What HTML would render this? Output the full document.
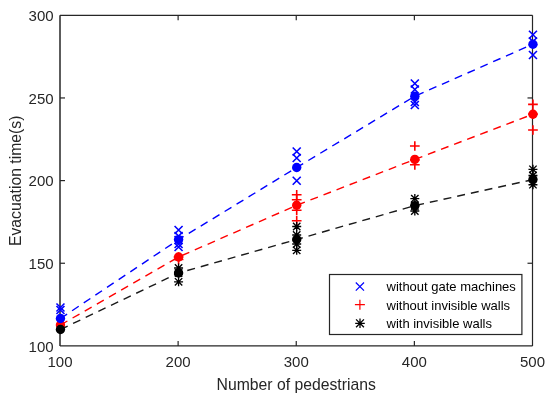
<!DOCTYPE html>
<html><head><meta charset="utf-8"><title>Evacuation time plot</title>
<style>html,body{margin:0;padding:0;background:#fff;width:550px;height:399px;overflow:hidden}svg{display:block}</style>
</head><body>
<svg width="550" height="399" viewBox="0 0 550 399">
<rect width="550" height="399" fill="#fff"/>
<g stroke="#262626" fill="none">
<line x1="60.0" y1="15.3" x2="60.0" y2="345.9" stroke-width="1.5"/>
<line x1="532.5" y1="15.3" x2="532.5" y2="345.9" stroke-width="1.2"/>
<line x1="60.0" y1="15.3" x2="532.5" y2="15.3" stroke-width="1.3"/>
<line x1="60.0" y1="345.9" x2="532.5" y2="345.9" stroke-width="1.3"/>
<line x1="178.12" y1="345.9" x2="178.12" y2="340.9" stroke-width="1.2"/>
<line x1="178.12" y1="15.3" x2="178.12" y2="20.3" stroke-width="1.2"/>
<line x1="296.25" y1="345.9" x2="296.25" y2="340.9" stroke-width="1.2"/>
<line x1="296.25" y1="15.3" x2="296.25" y2="20.3" stroke-width="1.2"/>
<line x1="414.38" y1="345.9" x2="414.38" y2="340.9" stroke-width="1.2"/>
<line x1="414.38" y1="15.3" x2="414.38" y2="20.3" stroke-width="1.2"/>
<line x1="60.0" y1="263.25" x2="65.0" y2="263.25" stroke-width="1.2"/>
<line x1="532.5" y1="263.25" x2="527.5" y2="263.25" stroke-width="1.2"/>
<line x1="60.0" y1="180.60" x2="65.0" y2="180.60" stroke-width="1.2"/>
<line x1="532.5" y1="180.60" x2="527.5" y2="180.60" stroke-width="1.2"/>
<line x1="60.0" y1="97.95" x2="65.0" y2="97.95" stroke-width="1.2"/>
<line x1="532.5" y1="97.95" x2="527.5" y2="97.95" stroke-width="1.2"/>
</g>
<polyline points="60.45,325.00 178.57,257.00 296.70,205.30 414.82,159.40 532.95,114.20" fill="none" stroke="#ff0000" stroke-width="1.4" stroke-dasharray="8 6"/>
<path d="M173.72 257.00H183.42M178.57 252.15V261.85" stroke="#ff0000" stroke-width="1.6" fill="none"/>
<path d="M173.72 259.50H183.42M178.57 254.65V264.35" stroke="#ff0000" stroke-width="1.6" fill="none"/>
<path d="M291.85 194.80H301.55M296.70 189.95V199.65" stroke="#ff0000" stroke-width="1.6" fill="none"/>
<path d="M291.85 199.80H301.55M296.70 194.95V204.65" stroke="#ff0000" stroke-width="1.6" fill="none"/>
<path d="M291.85 210.20H301.55M296.70 205.35V215.05" stroke="#ff0000" stroke-width="1.6" fill="none"/>
<path d="M291.85 220.70H301.55M296.70 215.85V225.55" stroke="#ff0000" stroke-width="1.6" fill="none"/>
<path d="M409.97 146.00H419.68M414.82 141.15V150.85" stroke="#ff0000" stroke-width="1.6" fill="none"/>
<path d="M409.97 160.00H419.68M414.82 155.15V164.85" stroke="#ff0000" stroke-width="1.6" fill="none"/>
<path d="M409.97 164.80H419.68M414.82 159.95V169.65" stroke="#ff0000" stroke-width="1.6" fill="none"/>
<path d="M528.10 104.40H537.80M532.95 99.55V109.25" stroke="#ff0000" stroke-width="1.6" fill="none"/>
<path d="M528.10 114.00H537.80M532.95 109.15V118.85" stroke="#ff0000" stroke-width="1.6" fill="none"/>
<path d="M528.10 130.00H537.80M532.95 125.15V134.85" stroke="#ff0000" stroke-width="1.6" fill="none"/>
<circle cx="60.45" cy="325.00" r="4.7" fill="#ff0000"/>
<circle cx="178.57" cy="257.00" r="4.7" fill="#ff0000"/>
<circle cx="296.70" cy="205.30" r="4.7" fill="#ff0000"/>
<circle cx="414.82" cy="159.40" r="4.7" fill="#ff0000"/>
<circle cx="532.95" cy="114.20" r="4.7" fill="#ff0000"/>
<polyline points="60.45,329.50 178.57,273.00 296.70,239.50 414.82,205.60 532.95,179.60" fill="none" stroke="#1a1a1a" stroke-width="1.4" stroke-dasharray="8 6"/>
<path d="M174.07 268.00H183.07M178.57 263.50V272.50M174.88 264.31L182.26 271.69M174.88 271.69L182.26 264.31" stroke="#000000" stroke-width="1.35" fill="none"/>
<path d="M174.07 273.00H183.07M178.57 268.50V277.50M174.88 269.31L182.26 276.69M174.88 276.69L182.26 269.31" stroke="#000000" stroke-width="1.35" fill="none"/>
<path d="M174.07 281.80H183.07M178.57 277.30V286.30M174.88 278.11L182.26 285.49M174.88 285.49L182.26 278.11" stroke="#000000" stroke-width="1.35" fill="none"/>
<path d="M292.20 226.50H301.20M296.70 222.00V231.00M293.01 222.81L300.39 230.19M293.01 230.19L300.39 222.81" stroke="#000000" stroke-width="1.35" fill="none"/>
<path d="M292.20 235.00H301.20M296.70 230.50V239.50M293.01 231.31L300.39 238.69M293.01 238.69L300.39 231.31" stroke="#000000" stroke-width="1.35" fill="none"/>
<path d="M292.20 244.00H301.20M296.70 239.50V248.50M293.01 240.31L300.39 247.69M293.01 247.69L300.39 240.31" stroke="#000000" stroke-width="1.35" fill="none"/>
<path d="M292.20 250.30H301.20M296.70 245.80V254.80M293.01 246.61L300.39 253.99M293.01 253.99L300.39 246.61" stroke="#000000" stroke-width="1.35" fill="none"/>
<path d="M410.32 198.60H419.32M414.82 194.10V203.10M411.13 194.91L418.51 202.29M411.13 202.29L418.51 194.91" stroke="#000000" stroke-width="1.35" fill="none"/>
<path d="M410.32 206.00H419.32M414.82 201.50V210.50M411.13 202.31L418.51 209.69M411.13 209.69L418.51 202.31" stroke="#000000" stroke-width="1.35" fill="none"/>
<path d="M410.32 211.00H419.32M414.82 206.50V215.50M411.13 207.31L418.51 214.69M411.13 214.69L418.51 207.31" stroke="#000000" stroke-width="1.35" fill="none"/>
<path d="M528.45 169.30H537.45M532.95 164.80V173.80M529.26 165.61L536.64 172.99M529.26 172.99L536.64 165.61" stroke="#000000" stroke-width="1.35" fill="none"/>
<path d="M528.45 175.50H537.45M532.95 171.00V180.00M529.26 171.81L536.64 179.19M529.26 179.19L536.64 171.81" stroke="#000000" stroke-width="1.35" fill="none"/>
<path d="M528.45 184.70H537.45M532.95 180.20V189.20M529.26 181.01L536.64 188.39M529.26 188.39L536.64 181.01" stroke="#000000" stroke-width="1.35" fill="none"/>
<circle cx="60.45" cy="329.50" r="4.7" fill="#000000"/>
<circle cx="178.57" cy="273.00" r="4.7" fill="#000000"/>
<circle cx="296.70" cy="239.50" r="4.7" fill="#000000"/>
<circle cx="414.82" cy="205.60" r="4.7" fill="#000000"/>
<circle cx="532.95" cy="179.60" r="4.7" fill="#000000"/>
<polyline points="60.45,318.50 178.57,239.60 296.70,167.50 414.82,96.20 532.95,44.20" fill="none" stroke="#0000ff" stroke-width="1.4" stroke-dasharray="8 6"/>
<path d="M56.45 303.50L64.45 311.50M56.45 311.50L64.45 303.50" stroke="#0000ff" stroke-width="1.6" fill="none"/>
<path d="M56.45 306.00L64.45 314.00M56.45 314.00L64.45 306.00" stroke="#0000ff" stroke-width="1.6" fill="none"/>
<path d="M174.57 226.00L182.57 234.00M174.57 234.00L182.57 226.00" stroke="#0000ff" stroke-width="1.6" fill="none"/>
<path d="M174.57 232.00L182.57 240.00M174.57 240.00L182.57 232.00" stroke="#0000ff" stroke-width="1.6" fill="none"/>
<path d="M174.57 236.00L182.57 244.00M174.57 244.00L182.57 236.00" stroke="#0000ff" stroke-width="1.6" fill="none"/>
<path d="M174.57 240.00L182.57 248.00M174.57 248.00L182.57 240.00" stroke="#0000ff" stroke-width="1.6" fill="none"/>
<path d="M174.57 243.00L182.57 251.00M174.57 251.00L182.57 243.00" stroke="#0000ff" stroke-width="1.6" fill="none"/>
<path d="M292.70 147.50L300.70 155.50M292.70 155.50L300.70 147.50" stroke="#0000ff" stroke-width="1.6" fill="none"/>
<path d="M292.70 154.00L300.70 162.00M292.70 162.00L300.70 154.00" stroke="#0000ff" stroke-width="1.6" fill="none"/>
<path d="M292.70 176.70L300.70 184.70M292.70 184.70L300.70 176.70" stroke="#0000ff" stroke-width="1.6" fill="none"/>
<path d="M410.82 79.50L418.82 87.50M410.82 87.50L418.82 79.50" stroke="#0000ff" stroke-width="1.6" fill="none"/>
<path d="M410.82 85.50L418.82 93.50M410.82 93.50L418.82 85.50" stroke="#0000ff" stroke-width="1.6" fill="none"/>
<path d="M410.82 98.00L418.82 106.00M410.82 106.00L418.82 98.00" stroke="#0000ff" stroke-width="1.6" fill="none"/>
<path d="M410.82 101.00L418.82 109.00M410.82 109.00L418.82 101.00" stroke="#0000ff" stroke-width="1.6" fill="none"/>
<path d="M528.95 30.80L536.95 38.80M528.95 38.80L536.95 30.80" stroke="#0000ff" stroke-width="1.6" fill="none"/>
<path d="M528.95 37.50L536.95 45.50M528.95 45.50L536.95 37.50" stroke="#0000ff" stroke-width="1.6" fill="none"/>
<path d="M528.95 51.00L536.95 59.00M528.95 59.00L536.95 51.00" stroke="#0000ff" stroke-width="1.6" fill="none"/>
<circle cx="60.45" cy="318.50" r="4.7" fill="#0000ff"/>
<circle cx="178.57" cy="239.60" r="4.7" fill="#0000ff"/>
<circle cx="296.70" cy="167.50" r="4.7" fill="#0000ff"/>
<circle cx="414.82" cy="96.20" r="4.7" fill="#0000ff"/>
<circle cx="532.95" cy="44.20" r="4.7" fill="#0000ff"/>
<g font-family="Liberation Sans, Arial, sans-serif" font-size="15" fill="#262626">
<text x="60.00" y="367.0" text-anchor="middle">100</text>
<text x="178.12" y="367.0" text-anchor="middle">200</text>
<text x="296.25" y="367.0" text-anchor="middle">300</text>
<text x="414.38" y="367.0" text-anchor="middle">400</text>
<text x="532.50" y="367.0" text-anchor="middle">500</text>
<text x="53.6" y="351.70" text-anchor="end">100</text>
<text x="53.6" y="269.05" text-anchor="end">150</text>
<text x="53.6" y="186.40" text-anchor="end">200</text>
<text x="53.6" y="103.75" text-anchor="end">250</text>
<text x="53.6" y="21.10" text-anchor="end">300</text>
</g>
<text x="296.2" y="389.7" text-anchor="middle" font-family="Liberation Sans, Arial, sans-serif" font-size="15.75" fill="#262626">Number of pedestrians</text>
<text transform="translate(20.7 180.8) rotate(-90)" x="0" y="0" text-anchor="middle" font-family="Liberation Sans, Arial, sans-serif" font-size="15.75" fill="#262626">Evacuation time(s)</text>
<rect x="329.5" y="274.5" width="192.4" height="60" fill="#fff" stroke="#262626" stroke-width="1.2"/>
<path d="M355.80 282.50L364.00 290.70M355.80 290.70L364.00 282.50" stroke="#0000ff" stroke-width="1.2" fill="none"/>
<path d="M354.90 304.70H364.90M359.90 299.70V309.70" stroke="#ff0000" stroke-width="1.2" fill="none"/>
<path d="M355.20 323.30H364.80M360.00 318.50V328.10M356.06 319.36L363.94 327.24M356.06 327.24L363.94 319.36" stroke="#000000" stroke-width="1.3" fill="none"/>
<g font-family="Liberation Sans, Arial, sans-serif" font-size="13" fill="#000">
<text x="386.5" y="290.7">without gate machines</text>
<text x="386.5" y="309.6">without invisible walls</text>
<text x="386.5" y="327.8">with invisible walls</text>
</g>
</svg>
</body></html>
